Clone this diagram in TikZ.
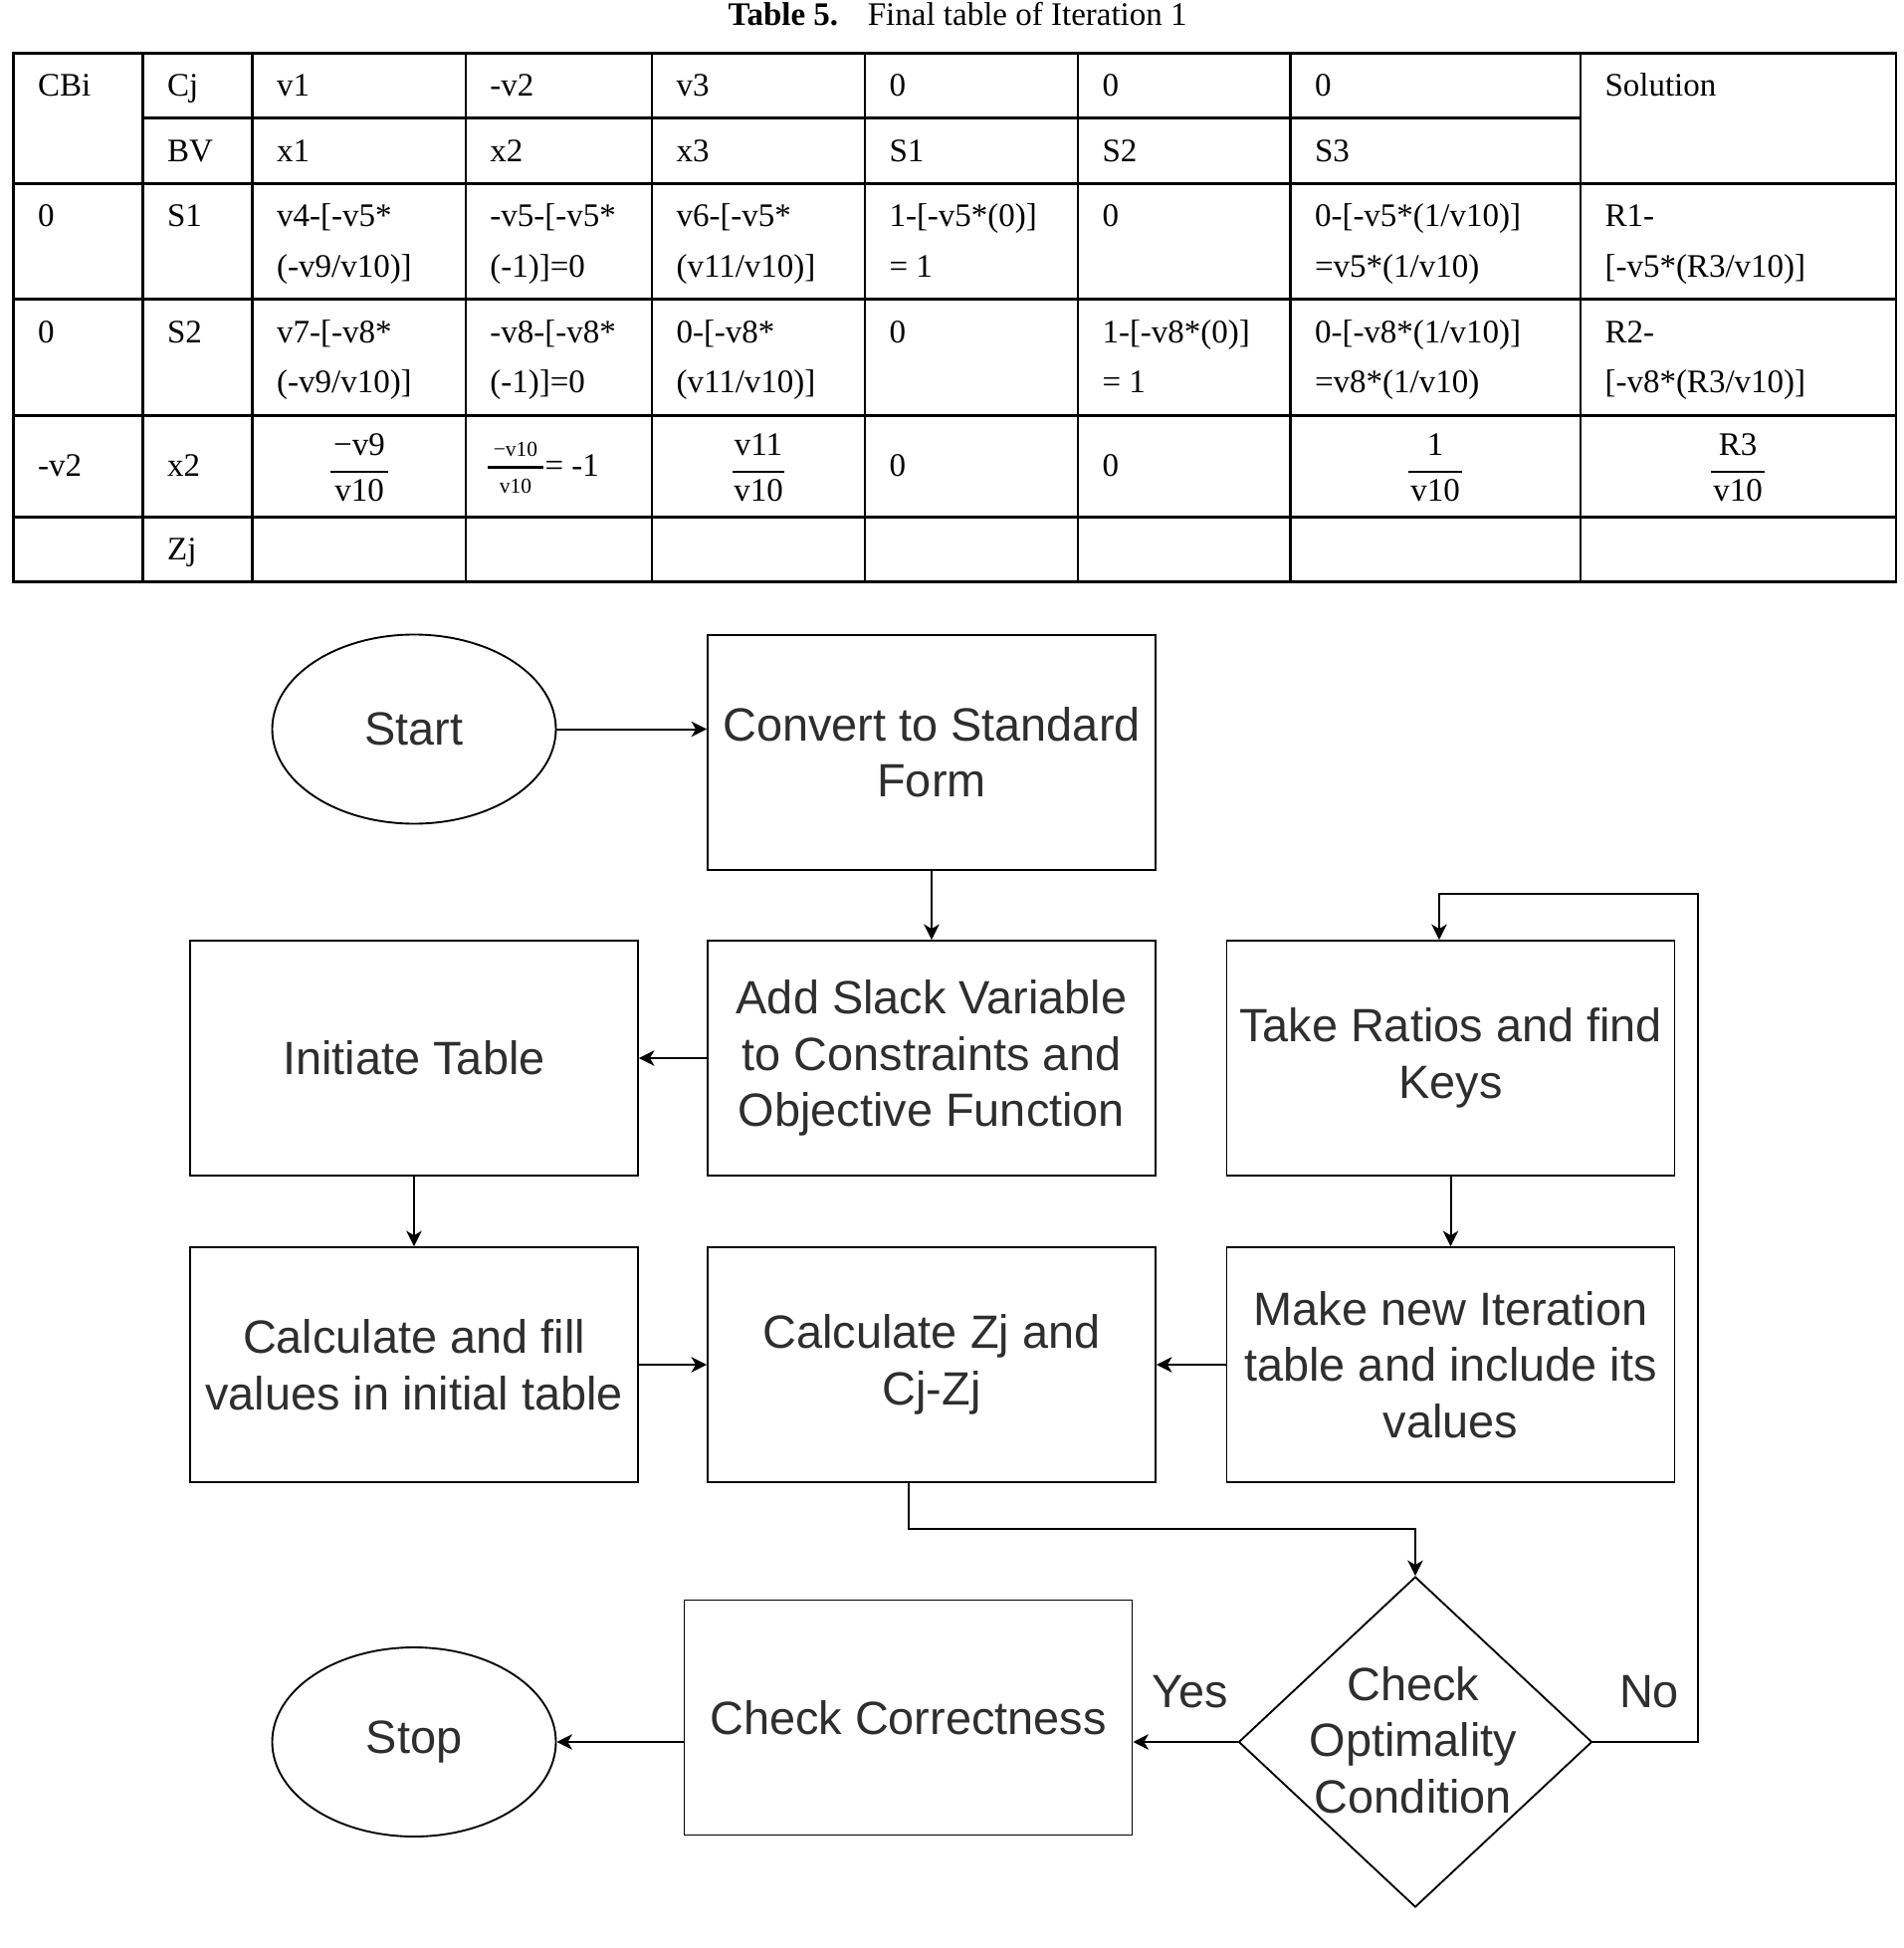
\documentclass[tikz,border=0pt]{standalone}
\usepackage{fontspec}
\setmainfont{Liberation Serif}
\newfontfamily\chartfont{Liberation Sans}
\usetikzlibrary{shapes.geometric,arrows.meta}

\tikzset{
  cell/.style={anchor=base west, inner sep=0pt, font=\fontsize{13.2}{16}\selectfont},
  fracpart/.style={anchor=base, inner sep=0pt, font=\fontsize{13.2}{16}\selectfont},
  smallpart/.style={anchor=base, inner sep=0pt, font=\fontsize{8.6}{10}\selectfont},
  rule/.style={line width=1pt},
  box/.style={draw, line width=0.75pt, minimum width=180pt, minimum height=94.4pt,
    align=center, text=black!82, font=\chartfont\fontsize{18.75}{22.6}\selectfont},
  term/.style={box, ellipse, minimum width=114pt, minimum height=76pt, inner sep=0pt},
  decision/.style={draw, diamond, line width=0.75pt, minimum width=142pt,
    minimum height=132.8pt, inner sep=0pt},
  tag/.style={align=center, text=black!82, font=\chartfont\fontsize{18.75}{22.6}\selectfont},
  flow/.style={line width=0.8pt, -{Stealth[length=6.2pt,width=6.2pt,inset=1.8pt]}}
}

\begin{document}
\begin{tikzpicture}[x=0.4pt,y=-0.4pt]
    \useasboundingbox (0,0) rectangle (1912,1957);

    % Caption
    \node[cell] (caption) at (731,26) {\textbf{Table 5.}\hspace{0.9em}Final table of Iteration 1};

    % Draw the table grid
    \draw[rule] (13.6,53.6) rectangle (1905,584.6);
    \draw[rule] (143.6,118.6) -- (1588,118.6);
    \foreach \y in {184.6,300.7,417.5,519.6}
        \draw[rule] (13.6,\y) -- (1905,\y);
    \foreach \x in {143.6,253.6,467.9,655,869,1083,1296.5,1588}
        \draw[rule] (\x,53.6) -- (\x,584.6);

    % Header rows
    \foreach \t/\x [count=\i] in {CBi/37.6, Cj/167.6, v1/277.6, -v2/491.9, v3/679, 0/893, 0/1107, 0/1320.5, Solution/1612}
        \node[cell] (cost\i) at (\x,97) {\t};
    \foreach \t/\x [count=\i] in {BV/167.6, x1/277.6, x2/491.9, x3/679, S1/893, S2/1107, S3/1320.5}
        \node[cell] (var\i) at (\x,162.5) {\t};

    % Row S1
    \node[cell] (sa0) at (37.6,227.5) {0};
    \node[cell] (sa1) at (167.6,227.5) {S1};
    \node[cell] (sa2) at (277.6,227.5) {v4-[-v5*};
    \node[cell] (sa2b) at (277.6,278.6) {(-v9/v10)]};
    \node[cell] (sa3) at (491.9,227.5) {-v5-[-v5*};
    \node[cell] (sa3b) at (491.9,278.6) {(-1)]=0};
    \node[cell] (sa4) at (679,227.5) {v6-[-v5*};
    \node[cell] (sa4b) at (679,278.6) {(v11/v10)]};
    \node[cell] (sa5) at (893,227.5) {1-[-v5*(0)]};
    \node[cell] (sa5b) at (893,278.6) {= 1};
    \node[cell] (sa6) at (1107,227.5) {0};
    \node[cell] (sa7) at (1320.5,227.5) {0-[-v5*(1/v10)]};
    \node[cell] (sa7b) at (1320.5,278.6) {=v5*(1/v10)};
    \node[cell] (sa8) at (1612,227.5) {R1-};
    \node[cell] (sa8b) at (1612,278.6) {[-v5*(R3/v10)]};

    % Row S2
    \node[cell] (sb0) at (37.6,344.1) {0};
    \node[cell] (sb1) at (167.6,344.1) {S2};
    \node[cell] (sb2) at (277.6,344.1) {v7-[-v8*};
    \node[cell] (sb2b) at (277.6,395) {(-v9/v10)]};
    \node[cell] (sb3) at (491.9,344.1) {-v8-[-v8*};
    \node[cell] (sb3b) at (491.9,395) {(-1)]=0};
    \node[cell] (sb4) at (679,344.1) {0-[-v8*};
    \node[cell] (sb4b) at (679,395) {(v11/v10)]};
    \node[cell] (sb5) at (893,344.1) {0};
    \node[cell] (sb6) at (1107,344.1) {1-[-v8*(0)]};
    \node[cell] (sb6b) at (1107,395) {= 1};
    \node[cell] (sb7) at (1320.5,344.1) {0-[-v8*(1/v10)]};
    \node[cell] (sb7b) at (1320.5,395) {=v8*(1/v10)};
    \node[cell] (sb8) at (1612,344.1) {R2-};
    \node[cell] (sb8b) at (1612,395) {[-v8*(R3/v10)]};

    % Row x2 with fractions
    \node[cell] (xc0) at (37.6,478.6) {-v2};
    \node[cell] (xc1) at (167.6,478.6) {x2};
    \node[fracpart] (xn2) at (361,458) {−v9};
    \node[fracpart] (xd2) at (361,504) {v10};
    \draw[rule] (332,474) -- (390,474);
    \node[smallpart] (xn3) at (518,458.6) {−v10};
    \node[smallpart] (xd3) at (518,496) {v10};
    \draw[rule] (490,469.6) -- (546,469.6);
    \node[cell] (xe3) at (547,478.6) {= -1};
    \node[fracpart] (xn4) at (762,458) {v11};
    \node[fracpart] (xd4) at (762,504) {v10};
    \draw[rule] (736,474) -- (788,474);
    \node[cell] (xc5) at (893,478.6) {0};
    \node[cell] (xc6) at (1107,478.6) {0};
    \node[fracpart] (xn7) at (1442,458) {1};
    \node[fracpart] (xd7) at (1442,504) {v10};
    \draw[rule] (1415,474) -- (1469,474);
    \node[fracpart] (xn8) at (1746,458) {R3};
    \node[fracpart] (xd8) at (1746,504) {v10};
    \draw[rule] (1719,474) -- (1773,474);

    % Row Zj
    \node[cell] (zjrow) at (167.6,563) {Zj};

    % Flowchart blocks
    \node[term] (start) at (416,732.5) {Start};
    \node[box] (convert) at (936,755.75) {Convert to Standard\\Form};
    \node[box] (slack) at (936,1063) {Add Slack Variable\\to Constraints and\\Objective Function};
    \node[box] (init) at (416,1063) {Initiate Table};
    \node[box] (ratios) at (1457.5,1063) {Take Ratios and find\\Keys};
    \node[box] (fill) at (416,1371) {Calculate and fill\\values in initial table};
    \node[box] (zj) at (936,1371) {Calculate Zj and\\Cj-Zj};
    \node[box] (newiter) at (1457.5,1371) {Make new Iteration\\table and include its\\values};
    \node[decision] (decide) at (1422,1750) {};
    \node[tag] (decidetext) at (1420,1748) {Check\\Optimality\\Condition};
    \node[box] (check) at (912.5,1725.5) {Check Correctness};
    \node[term] (stop) at (416,1750) {Stop};

    % Connectors
    \draw[flow] (start.east) -- (start.east -| convert.west);
    \draw[flow] (convert) -- (slack);
    \draw[flow] (slack) -- (init);
    \draw[flow] (init) -- (fill);
    \draw[flow] (fill) -- (zj);
    \draw[flow] (ratios) -- (newiter);
    \draw[flow] (newiter) -- (zj);
    \coordinate (zjout) at (913,1489);
    \coordinate (zjbend) at (913,1536);
    \draw[flow] (zjout) -- (zjbend) -| (decide.north);
    \coordinate (loopcorner) at (1706,897.5);
    \draw[flow] (decide.east) -| (loopcorner) -| ([xshift=-4.6pt]ratios.north);
    \draw[flow] (decide.west) -- (decide.west -| check.east);
    \draw[flow] (check.west |- stop.east) -- (stop.east);

    % Branch labels
    \node[tag] (yes) at (1196,1700) {Yes};
    \node[tag] (no) at (1657,1700) {No};
\end{tikzpicture}
\end{document}
